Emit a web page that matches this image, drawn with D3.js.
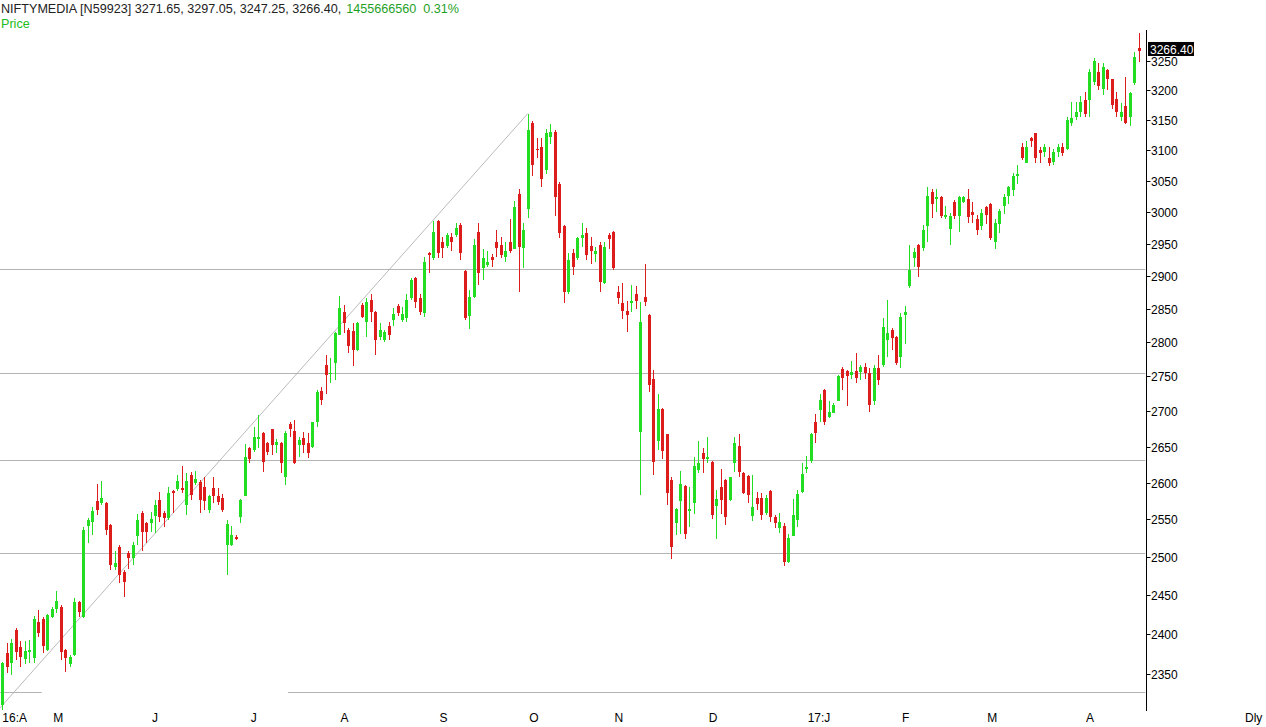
<!DOCTYPE html>
<html><head><meta charset="utf-8">
<script src="https://cdn.jsdelivr.net/npm/d3@7"></script>
<style>body{margin:0;background:#fff;} svg{display:block;font-family:"Liberation Sans",Arial,sans-serif;}</style>
</head><body><svg id="c" width="1266" height="727"></svg>
<script>
const opens=[2312,2376,2364,2405,2384,2369,2377,2370,2415,2419,2380,2422,2432,2435,2380,2362,2374,2441,2422,2541,2547,2575,2572,2572,2542,2487,2513,2480,2505,2499,2528,2559,2545,2545,2555,2576,2559,2552,2589,2591,2592,2570,2611,2600,2601,2594,2563,2592,2581,2579,2516,2515,2526,2553,2582,2648,2645,2661,2669,2655,2674,2652,2655,2607,2682,2672,2652,2662,2655,2650,2685,2729,2767,2754,2770,2811,2846,2819,2817,2789,2856,2831,2864,2846,2808,2804,2825,2834,2855,2833,2837,2867,2897,2866,2844,2936,2928,2985,2952,2947,2961,2963,2980,2908,2840,2868,2969,2913,2917,2930,2953,2948,2930,2952,2942,3028,2944,3004,3145,3102,3104,3068,3122,3130,3045,2977,2875,2936,2927,2959,2967,2947,2934,2948,2890,2963,2969,2875,2859,2847,2859,2873,2671,2868,2841,2747,2658,2703,2667,2604,2545,2575,2595,2561,2572,2618,2641,2633,2629,2568,2594,2604,2576,2627,2651,2613,2609,2555,2579,2579,2559,2589,2553,2538,2541,2493,2528,2549,2587,2619,2630,2684,2701,2731,2692,2698,2715,2761,2758,2752,2758,2757,2764,2755,2714,2763,2767,2804,2819,2808,2779,2841,2884,2928,2948,2944,2978,3032,3020,3024,2992,2973,3015,2994,3015,3020,3000,2989,2978,3008,3013,2952,2981,3010,3026,3035,3058,3104,3079,3120,3127,3099,3097,3087,3080,3096,3104,3102,3145,3154,3162,3182,3182,3214,3230,3202,3233,3218,3184,3155,3172,3155,3212,3271.65];
const highs=[2365,2389,2394,2407,2391,2391,2392,2423,2431,2422,2426,2434,2455,2437,2381,2374,2446,2442,2540,2552,2566,2598,2602,2574,2544,2507,2515,2482,2507,2520,2557,2561,2547,2560,2576,2587,2561,2594,2590,2611,2623,2613,2615,2616,2604,2607,2583,2607,2592,2585,2549,2541,2529,2577,2654,2649,2678,2695,2671,2656,2675,2661,2656,2672,2685,2688,2664,2671,2669,2685,2731,2735,2782,2777,2816,2870,2856,2821,2829,2830,2859,2867,2872,2847,2829,2819,2831,2852,2857,2853,2872,2897,2899,2873,2930,2937,2986,2987,2961,2967,2967,2983,2982,2910,2879,2958,2982,2941,2939,2934,2971,2961,2952,2988,3018,3036,2983,3160,3147,3120,3120,3134,3143,3132,3047,2979,2936,2941,2961,2983,2975,2961,2945,2952,2952,2966,2970,2884,2890,2862,2887,2885,2861,2919,2842,2760,2724,2705,2668,2608,2565,2616,2596,2594,2636,2658,2648,2664,2630,2590,2619,2605,2608,2664,2668,2614,2610,2611,2587,2586,2583,2590,2556,2559,2545,2530,2578,2590,2627,2637,2669,2696,2724,2732,2714,2712,2752,2764,2759,2773,2785,2767,2770,2763,2767,2782,2837,2864,2821,2810,2844,2855,2948,2944,2950,2980,3039,3036,3037,3025,3010,2999,3019,3025,3026,3037,3016,2995,3005,3010,3014,2988,3004,3028,3042,3063,3076,3112,3114,3122,3128,3104,3109,3104,3102,3110,3112,3155,3179,3179,3190,3197,3236,3255,3246,3246,3236,3219,3197,3177,3221,3197,3264,3297.05];
const lows=[2306,2351,2349,2367,2359,2362,2364,2364,2396,2376,2378,2420,2427,2367,2352,2359,2372,2422,2420,2518,2529,2556,2570,2529,2483,2483,2466,2447,2484,2489,2515,2507,2518,2533,2532,2547,2540,2549,2559,2589,2586,2556,2576,2597,2559,2563,2559,2572,2570,2560,2476,2514,2522,2545,2582,2627,2642,2648,2615,2638,2638,2641,2613,2597,2664,2625,2636,2641,2634,2648,2677,2709,2724,2741,2745,2811,2814,2785,2766,2788,2836,2808,2831,2782,2804,2800,2804,2825,2840,2830,2830,2864,2852,2841,2838,2905,2925,2928,2928,2944,2938,2961,2925,2834,2820,2867,2886,2894,2914,2914,2930,2928,2921,2936,2941,2875,2913,2991,3058,3087,3040,3060,3109,2993,2959,2859,2872,2902,2925,2945,2925,2918,2922,2875,2888,2941,2910,2858,2835,2816,2845,2850,2583,2855,2728,2611,2645,2632,2570,2497,2529,2530,2524,2540,2557,2613,2613,2627,2551,2524,2557,2543,2575,2615,2608,2584,2572,2548,2563,2549,2556,2547,2538,2532,2488,2492,2527,2540,2586,2613,2627,2655,2685,2681,2690,2697,2714,2731,2708,2747,2741,2745,2747,2699,2709,2738,2764,2779,2789,2767,2763,2797,2882,2914,2898,2938,2953,2991,3000,2990,2988,2948,2988,2969,3014,2983,2983,2963,2972,2981,2956,2941,2967,2996,3012,3026,3044,3084,3079,3104,3078,3078,3089,3073,3075,3088,3090,3100,3139,3150,3155,3154,3155,3209,3200,3192,3199,3167,3155,3147,3142,3139,3209,3247.25];
const closes=[2364,2359,2389,2377,2371,2379,2380,2419,2401,2385,2424,2432,2442,2377,2370,2371,2441,2428,2536,2549,2561,2563,2579,2536,2489,2492,2476,2467,2499,2515,2549,2533,2533,2551,2570,2553,2552,2586,2586,2602,2590,2602,2583,2605,2576,2575,2581,2581,2574,2563,2544,2529,2524,2576,2636,2632,2664,2664,2629,2642,2652,2657,2627,2669,2675,2627,2659,2652,2641,2684,2728,2716,2752,2755,2814,2852,2829,2795,2789,2829,2838,2861,2846,2804,2819,2816,2811,2843,2844,2842,2864,2894,2861,2846,2922,2933,2969,2936,2944,2964,2953,2975,2936,2837,2868,2948,2905,2928,2922,2924,2944,2933,2938,2939,3007,2945,2972,3132,3076,3099,3052,3127,3129,3024,2967,2875,2925,2914,2959,2963,2933,2939,2938,2891,2945,2958,2913,2866,2847,2841,2862,2862,2831,2861,2738,2629,2703,2644,2586,2513,2564,2598,2530,2564,2623,2627,2633,2636,2556,2578,2576,2553,2607,2655,2615,2586,2583,2566,2571,2556,2579,2553,2545,2546,2493,2525,2556,2584,2612,2622,2667,2669,2716,2685,2699,2709,2750,2748,2750,2757,2748,2764,2755,2709,2763,2745,2823,2814,2807,2770,2838,2846,2910,2937,2914,2971,3026,3012,3024,2994,2995,2994,2994,3024,3024,2992,2995,2971,2999,2995,2959,2983,3002,3023,3040,3057,3060,3087,3105,3115,3086,3095,3104,3079,3096,3104,3095,3150,3152,3162,3179,3159,3230,3250,3207,3238,3218,3175,3162,3162,3145,3195,3256,3266.40];
const monthLabels=["16:A","M","J","J","A","S","O","N","D","17:J","F","M","A"];
const monthStarts=[0,12,34,56,76,98,118,137,158,180,201,220,242];
const yTicks=[2350,2400,2450,2500,2550,2600,2650,2700,2750,2800,2850,2900,2950,3000,3050,3100,3150,3200,3250];
const levelLines=[{v:2911,from:-0.5,to:254.5},{v:2755,from:-0.5,to:254.5},{v:2631,from:-0.5,to:254.5},{v:2505,from:-0.5,to:254.5},{v:2327,from:-0.5,to:8.8},{v:2327,from:63.6,to:254.5}];
const trendLine=[{i:-0.5,v:2308},{i:117,v:3160}];
const header={name:"NIFTYMEDIA [N59923]",o:"3271.65",h:"3297.05",l:"3247.25",c:"3266.40",vol:"1455666560",chg:"0.31%"};

const svg=d3.select("#c");
const n=opens.length;
const x=d3.scaleLinear().domain([0,253]).range([2.3,1138.5]);
const y=d3.scaleLog().domain([2350,3250]).range([673.8,60.5]);
const GREEN="#22dd22", RED="#dd1c1c";

// level lines
svg.append("g").selectAll("line").data(levelLines).join("line")
  .attr("x1",d=>x(d.from)).attr("x2",d=>x(d.to))
  .attr("y1",d=>Math.round(y(d.v))+0.5).attr("y2",d=>Math.round(y(d.v))+0.5)
  .attr("stroke","#b4b4b4").attr("stroke-width",1);
// trend line
svg.append("line").attr("x1",x(trendLine[0].i)).attr("y1",y(trendLine[0].v))
  .attr("x2",x(trendLine[1].i)).attr("y2",y(trendLine[1].v))
  .attr("stroke","#a8a8a8").attr("stroke-width",0.8);

const data=d3.range(n).map(i=>({i,o:opens[i],h:highs[i],l:lows[i],c:closes[i]}));
const g=svg.append("g").attr("shape-rendering","crispEdges");
g.selectAll("line.w").data(data).join("line").attr("class","w")
  .attr("x1",d=>Math.round(x(d.i))+0.5).attr("x2",d=>Math.round(x(d.i))+0.5)
  .attr("y1",d=>y(d.h)).attr("y2",d=>y(d.l))
  .attr("stroke",d=>d.c>=d.o?GREEN:RED).attr("stroke-width",1);
g.selectAll("rect").data(data).join("rect")
  .attr("x",d=>Math.round(x(d.i))-1).attr("width",3)
  .attr("y",d=>y(Math.max(d.o,d.c)))
  .attr("height",d=>Math.max(1,y(Math.min(d.o,d.c))-y(Math.max(d.o,d.c))))
  .attr("fill",d=>d.c>=d.o?GREEN:RED);

// right axis
const ax=1146.5;
svg.append("line").attr("x1",ax).attr("x2",ax).attr("y1",30).attr("y2",711).attr("stroke","#000");
const yt=svg.append("g");
yt.selectAll("line").data(yTicks).join("line")
  .attr("x1",ax).attr("x2",ax+4).attr("y1",d=>Math.round(y(d))+0.5).attr("y2",d=>Math.round(y(d))+0.5).attr("stroke","#000");
yt.selectAll("text").data(yTicks).join("text")
  .attr("x",1151).attr("y",d=>y(d)+5).attr("font-size",12).attr("fill","#000").text(d=>d);
// last price box
const lastY=y(closes[n-1]);
svg.append("rect").attr("x",1148).attr("y",lastY-9).attr("width",46).attr("height",14).attr("fill","#000");
svg.append("text").attr("x",1150).attr("y",lastY+3).attr("font-size",12).attr("fill","#fff").text(d3.format(".2f")(closes[n-1]));

// bottom labels
const bt=svg.append("g");
bt.selectAll("text").data(monthStarts).join("text")
  .attr("x",(d,k)=>x(d)-(k===0?0:3)).attr("y",722).attr("font-size",12).attr("fill","#000")
  .text((d,k)=>monthLabels[k]);
svg.append("text").attr("x",1245).attr("y",722).attr("font-size",12).attr("fill","#000").text("Dly");

// header
const ht=svg.append("text").attr("x",1).attr("y",13).attr("font-size",12.6);
ht.append("tspan").attr("fill","#222").text(`${header.name} ${header.o}, ${header.h}, ${header.l}, ${header.c},`);
ht.append("tspan").attr("fill","#1f9f1f").attr("dx",5).text(header.vol);
ht.append("tspan").attr("fill","#1f9f1f").attr("dx",7).text(header.chg);
svg.append("text").attr("x",1).attr("y",28).attr("font-size",12.6).attr("fill","#22bb22").text("Price");
</script></body></html>
